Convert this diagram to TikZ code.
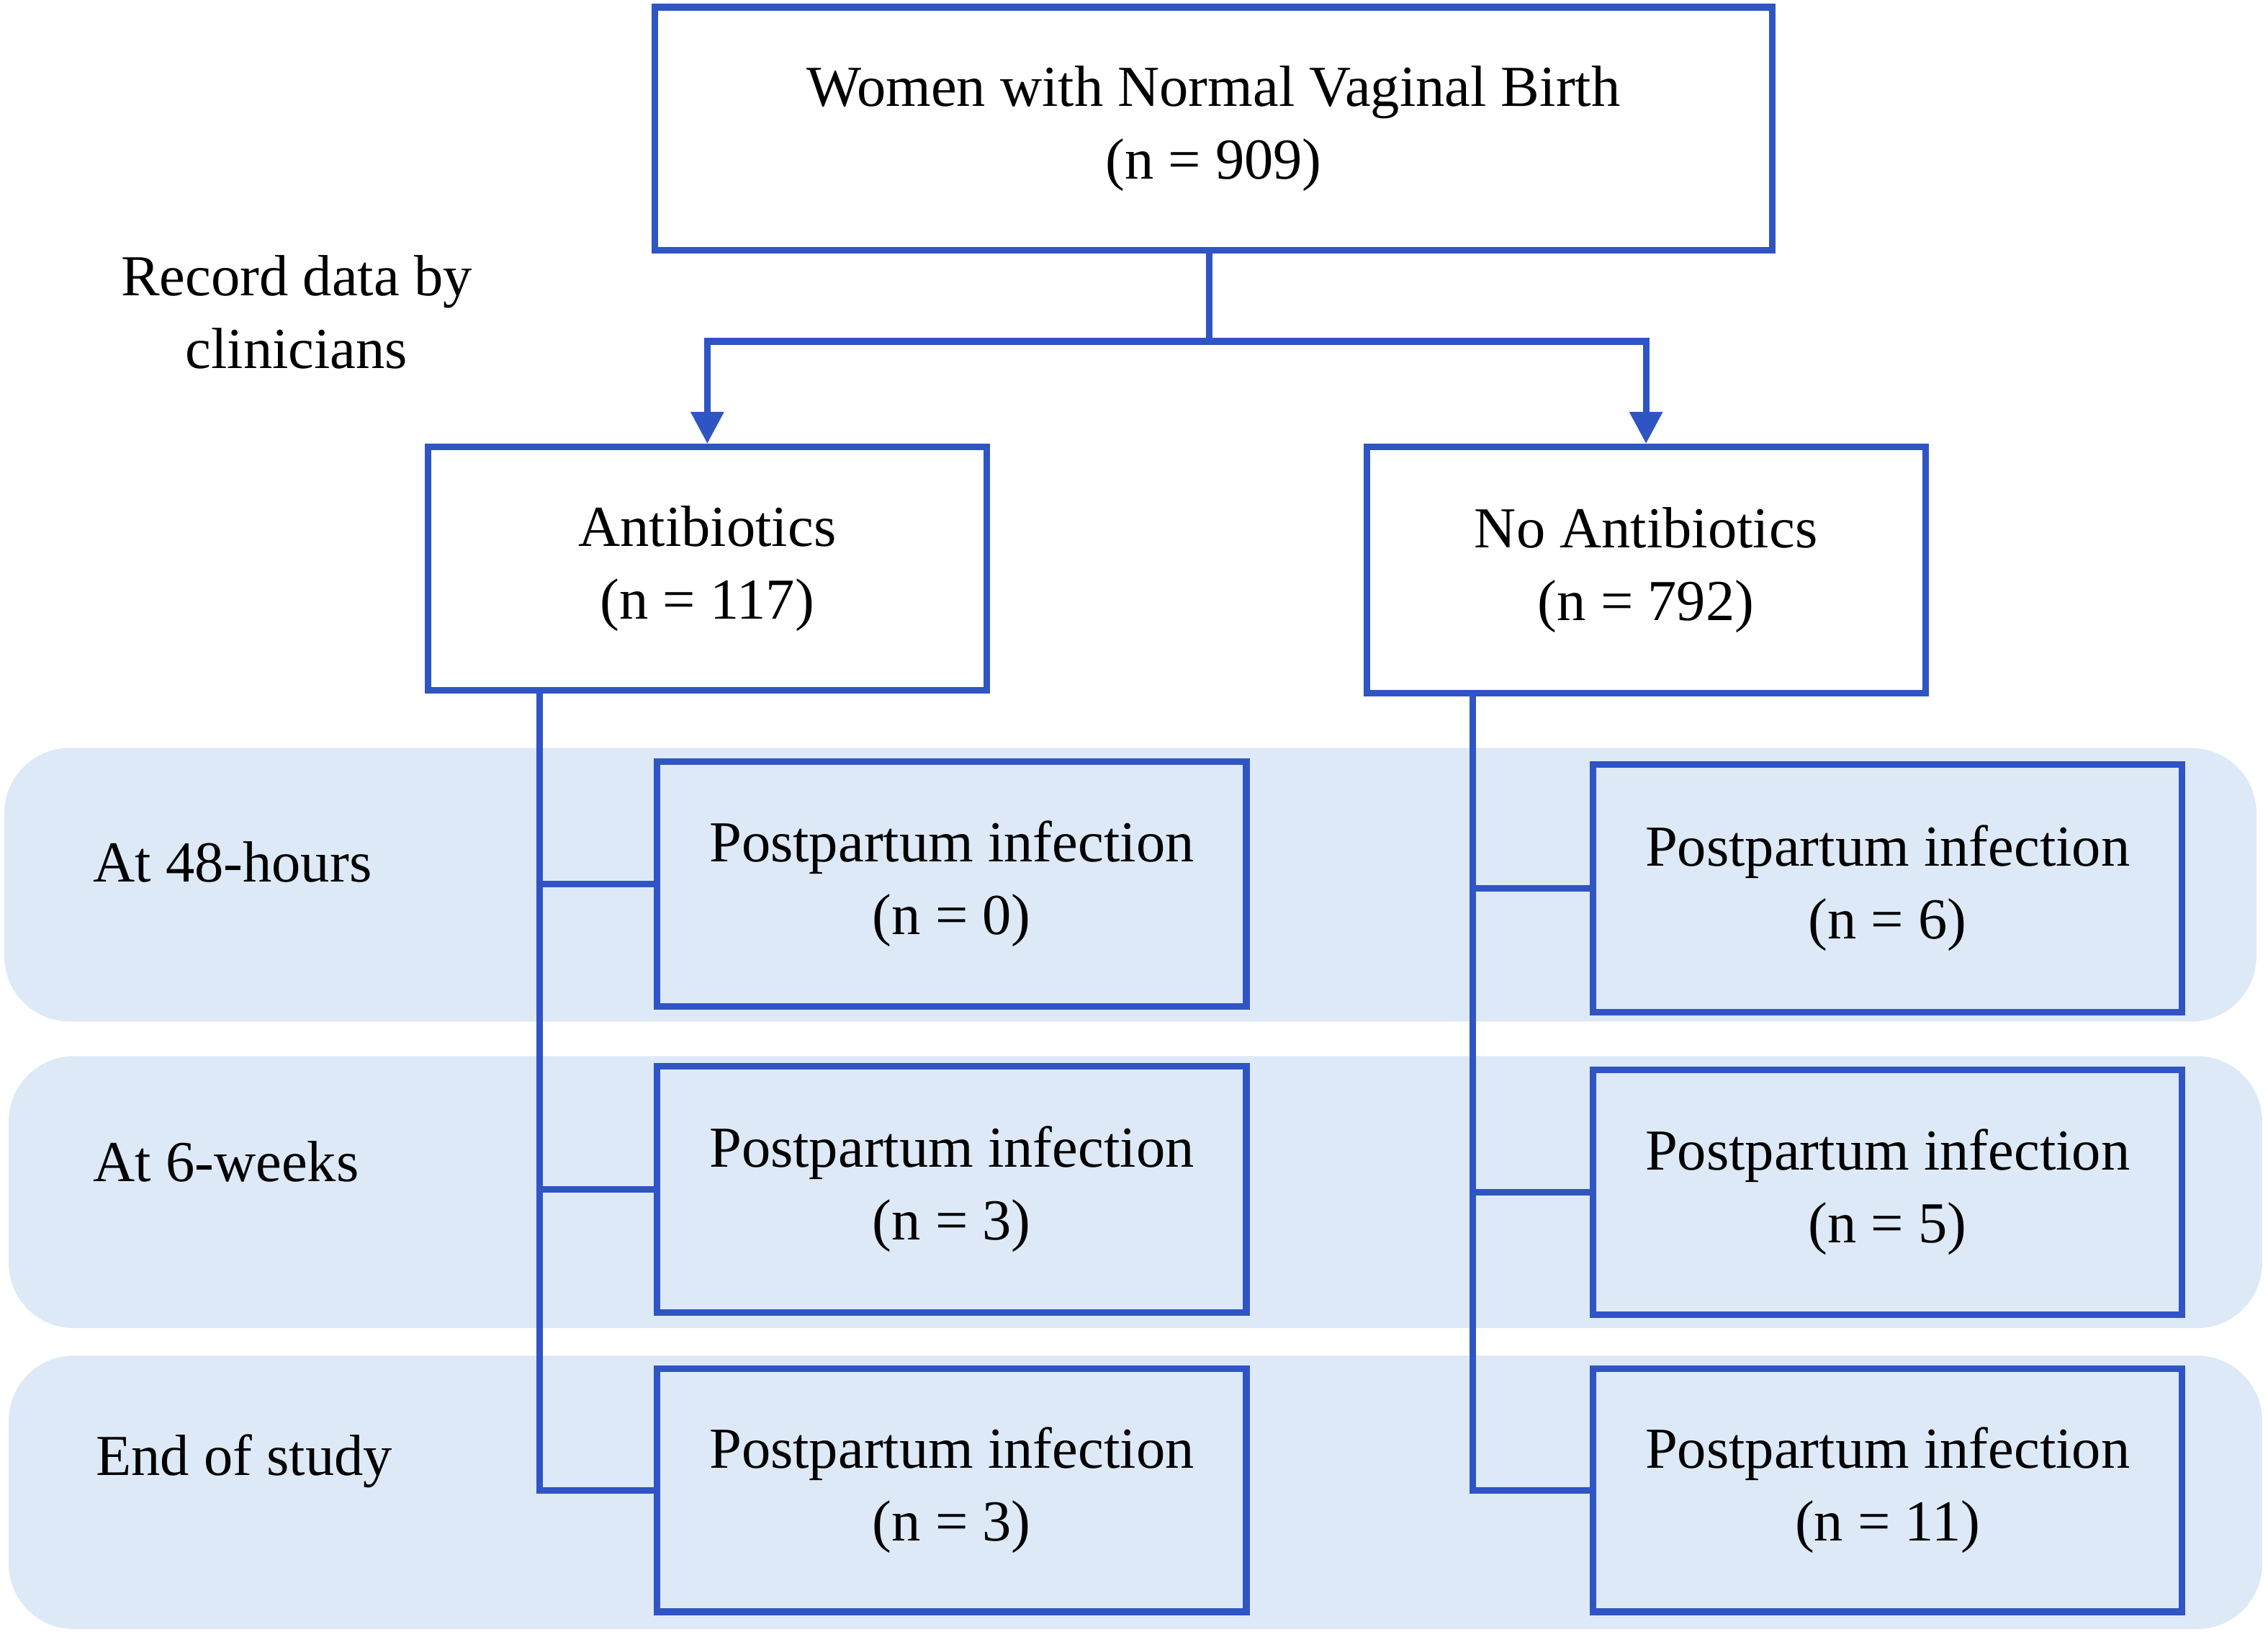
\documentclass[tikz,border=0pt]{standalone}
\usepackage{fontspec}
\setmainfont{Liberation Serif}
\usetikzlibrary{arrows.meta,positioning}
\definecolor{lineblue}{RGB}{47,84,196}
\definecolor{bandblue}{RGB}{221,233,246}
\begin{document}
\begin{tikzpicture}[x=0.01cm,y=-0.01cm,>={Triangle[length=2.2mm,width=2.2mm]},
		box/.style={rectangle,draw=lineblue,line width=1.3pt,align=center,font=\fontsize{11.4}{14.3}\selectfont,inner sep=0pt},
		band/.style={fill=bandblue,rounded corners=0.45cm},
		lbl/.style={font=\fontsize{11.4}{14.3}\selectfont,align=center},
		conn/.style={draw=lineblue,line width=1.3pt}]
		\useasboundingbox (0,0) rectangle (1568,1131);
		% time bands
		\fill[band] (3,517) rectangle (1560,706);
		\fill[band] (6,730) rectangle (1564,918);
		\fill[band] (6,937) rectangle (1564,1126);
		\node[lbl,anchor=west] (t1) at (52,596) {At 48-hours};
		\node[lbl,anchor=west] (t2) at (52,803) {At 6-weeks};
		\node[lbl,anchor=west] (t3) at (54,1010) {End of study};
		\node[lbl] (rec) at (205,216) {Record data by\\clinicians};
		% boxes
		\node[box,minimum width=7.72cm,minimum height=1.68cm] (top) at (839,89) {Women with Normal Vaginal Birth\\(n = 909)};
		\node[box,minimum width=3.86cm,minimum height=1.68cm] (ab) at (489,393) {Antibiotics\\(n = 117)};
		\node[box,minimum width=3.86cm,minimum height=1.70cm] (noab) at (1138,394) {No Antibiotics\\(n = 792)};
		\node[box,minimum width=4.07cm,minimum height=1.69cm] (a1) at (658,611) {Postpartum infection\\(n = 0)};
		\node[box,minimum width=4.07cm,minimum height=1.70cm] (a2) at (658,822) {Postpartum infection\\(n = 3)};
		\node[box,minimum width=4.07cm,minimum height=1.68cm] (a3) at (658,1030) {Postpartum infection\\(n = 3)};
		\node[box,minimum width=4.07cm,minimum height=1.71cm] (n1) at (1305,614) {Postpartum infection\\(n = 6)};
		\node[box,minimum width=4.07cm,minimum height=1.69cm] (n2) at (1305,824) {Postpartum infection\\(n = 5)};
		\node[box,minimum width=4.07cm,minimum height=1.68cm] (n3) at (1305,1030) {Postpartum infection\\(n = 11)};
		% connectors
		\coordinate (split) at (836,236);
		\draw[conn,->] (top.south -| split) -- (split) -| (ab.north);
		\draw[conn,->] (split) -| (noab.north);
		\coordinate (la) at (373,477);
		\coordinate (ra) at (1018,479);
		\draw[conn] (la) |- (a3.west);
		\draw[conn] (la |- a1.west) -- (a1.west);
		\draw[conn] (la |- a2.west) -- (a2.west);
		\draw[conn] (ra) |- (n3.west);
		\draw[conn] (ra |- n1.west) -- (n1.west);
		\draw[conn] (ra |- n2.west) -- (n2.west);
\end{tikzpicture}
\end{document}
